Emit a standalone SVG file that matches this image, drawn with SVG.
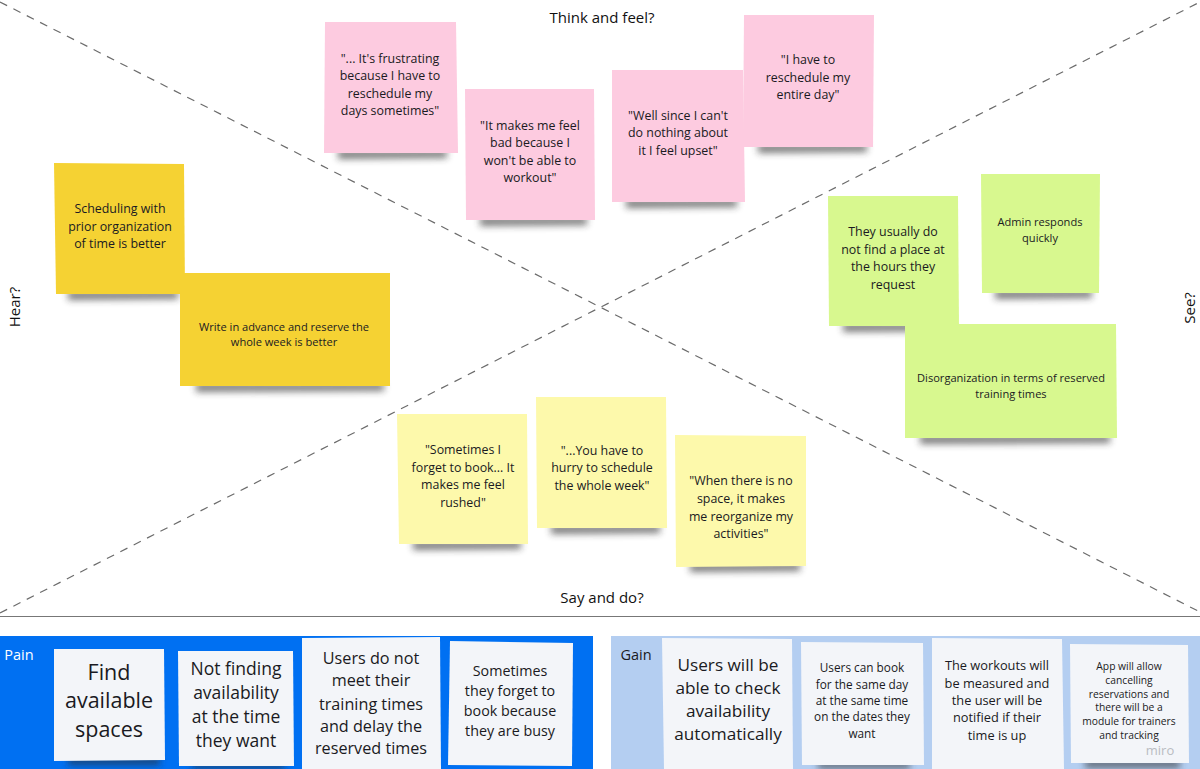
<svg xmlns="http://www.w3.org/2000/svg" width="1200" height="769" viewBox="0 0 1200 769">
<style>
text{font-family:"Open Sans","Noto Sans","Liberation Sans",sans-serif;fill:#1a1a22;text-anchor:middle}
.s{font-size:12.4px}
.w{font-size:11.1px}
.axis{font-size:15px;fill:#111}
.dash{stroke:#6b6b6b;stroke-width:1.2;stroke-dasharray:8 7;fill:none}
.shadow{fill:#2a2a2a;opacity:.62;filter:url(#blur)}
.pink{fill:#fdcbe0}.gold{fill:#f5d233}.green{fill:#d8f88f}.lem{fill:#fdf9ab}.card{fill:#f3f5f9}
</style>
<defs><filter id="blur" x="-20%" y="-150%" width="140%" height="400%"><feGaussianBlur stdDeviation="3.6"/></filter></defs>
<rect width="1200" height="769" fill="#fff"/>
<g id="connectors">
<path class="dash" d="M0 2L1200 612"/>
<path class="dash" d="M0 613L1200 2"/>
<path d="M0 616.500H1200" stroke="#777" stroke-width="1.200"/>
</g>
<g id="axis-labels">
<text class="axis" x="602" y="23">Think and feel?</text>
<text class="axis" x="602" y="603">Say and do?</text>
<text class="axis" transform="translate(20 307) rotate(-90)">Hear?</text>
<text class="axis" transform="translate(1195 308) rotate(-90)">See?</text>
</g>
<g id="pain-panel"><rect y="636" width="593" height="133" fill="#0070f2"/><text x="19" y="660" style="font-size:14.500px;fill:#fff">Pain</text></g>
<g id="gain-panel"><rect x="611" y="636" width="589" height="133" fill="#b4cef1"/><text x="636" y="660" style="font-size:14.500px">Gain</text></g>
<g id="note-frustrating"><path class="shadow" d="M338 150H447V158L338 159Z"/><polygon class="pink" points="325,22 456,22 458,153 324,153"/><text class="s"><tspan x="390" y="63">"... It's frustrating</tspan><tspan x="390" y="80">because I have to</tspan><tspan x="390" y="98">reschedule my</tspan><tspan x="390" y="115">days sometimes"</tspan></text></g>
<g id="note-feel-bad"><path class="shadow" d="M480 217H587V225L480 226Z"/><polygon class="pink" points="465,89 594,89 595,220 466,220"/><text class="s"><tspan x="530" y="130">"It makes me feel</tspan><tspan x="530" y="147">bad because I</tspan><tspan x="530" y="165">won't be able to</tspan><tspan x="530" y="182">workout"</tspan></text></g>
<g id="note-upset"><path class="shadow" d="M626 199H737V207L626 208Z"/><polygon class="pink" points="612,70 743,70 745,202 612,202"/><text class="s"><tspan x="678" y="120">"Well since I can't</tspan><tspan x="678" y="137">do nothing about</tspan><tspan x="678" y="155">it I feel upset"</tspan></text></g>
<g id="note-entire-day"><path class="shadow" d="M758 144H867V152L758 153Z"/><polygon class="pink" points="744,15 874,15 873,147 743,147"/><text class="s"><tspan x="808" y="64">"I have to</tspan><tspan x="808" y="82">reschedule my</tspan><tspan x="808" y="99">entire day"</tspan></text></g>
<g id="note-prior"><path class="shadow" d="M68 291H178V299L68 300Z"/><polygon class="gold" points="54,163 184,164 185,294 56,294"/><text class="s"><tspan x="120" y="213">Scheduling with</tspan><tspan x="120" y="231">prior organization</tspan><tspan x="120" y="248">of time is better</tspan></text></g>
<g id="note-advance"><path class="shadow" d="M196 383H384V391L196 392Z"/><polygon class="gold" points="180,273 390,273 390,386 180,386"/><text class="w"><tspan x="284" y="331">Write in advance and reserve the</tspan><tspan x="284" y="346">whole week is better</tspan></text></g>
<g id="note-no-place"><path class="shadow" d="M843 323H952V331L843 332Z"/><polygon class="green" points="828,196 958,196 959,326 829,326"/><text class="s"><tspan x="893" y="236">They usually do</tspan><tspan x="893" y="254">not find a place at</tspan><tspan x="893" y="271">the hours they</tspan><tspan x="893" y="289">request</tspan></text></g>
<g id="note-admin"><path class="shadow" d="M995 290H1092V298L995 299Z"/><polygon class="green" points="981,174 1100,174 1099,293 982,293"/><text class="w"><tspan x="1040" y="226">Admin responds</tspan><tspan x="1040" y="242">quickly</tspan></text></g>
<g id="note-disorganization"><path class="shadow" d="M920 435H1110V443L920 444Z"/><polygon class="green" points="905,324 1116,324 1117,438 905,438"/><text class="w"><tspan x="1011" y="382">Disorganization in terms of reserved</tspan><tspan x="1011" y="398">training times</tspan></text></g>
<g id="note-forget"><path class="shadow" d="M413 541H521V549L413 550Z"/><polygon class="lem" points="397,414 527,414 528,544 399,544"/><text class="s"><tspan x="463" y="454">"Sometimes I</tspan><tspan x="463" y="472">forget to book... It</tspan><tspan x="463" y="489">makes me feel</tspan><tspan x="463" y="507">rushed"</tspan></text></g>
<g id="note-hurry"><path class="shadow" d="M551 525H660V533L551 534Z"/><polygon class="lem" points="536,397 666,397 667,528 537,528"/><text class="s"><tspan x="602" y="455">"...You have to</tspan><tspan x="602" y="472">hurry to schedule</tspan><tspan x="602" y="490">the whole week"</tspan></text></g>
<g id="note-no-space"><path class="shadow" d="M690 563H800V571L690 572Z"/><polygon class="lem" points="675,435 806,436 806,566 676,567"/><text class="s"><tspan x="741" y="485">"When there is no</tspan><tspan x="741" y="503">space, it makes</tspan><tspan x="741" y="521">me reorganize my</tspan><tspan x="741" y="538">activities"</tspan></text></g>
<g id="pain-1"><path class="shadow" d="M68 757H160V765H68Z"/><polygon class="card" points="54,649 164,649 165,760 54,761"/><text style="font-size:21.500px"><tspan x="109" y="680">Find</tspan><tspan x="109" y="708">available</tspan><tspan x="109" y="737">spaces</tspan></text></g>
<g id="pain-2"><path class="shadow" d="M192 763H285V769H192Z"/><polygon class="card" points="178,651 293,651 294,766 179,766"/><text style="font-size:17.500px"><tspan x="236" y="675">Not finding</tspan><tspan x="236" y="699">availability</tspan><tspan x="236" y="723">at the time</tspan><tspan x="236" y="747">they want</tspan></text></g>
<g id="pain-3"><polygon class="card" points="302,638 440,637 441,769 302,769"/><text style="font-size:16.200px"><tspan x="371" y="664">Users do not</tspan><tspan x="371" y="686">meet their</tspan><tspan x="371" y="710">training times</tspan><tspan x="371" y="732">and delay the</tspan><tspan x="371" y="754">reserved times</tspan></text></g>
<g id="pain-4"><polygon class="card" points="450,641 573,643 572,766 448,765"/><text style="font-size:14.300px"><tspan x="510" y="676">Sometimes</tspan><tspan x="510" y="696">they forget to</tspan><tspan x="510" y="716">book because</tspan><tspan x="510" y="736">they are busy</tspan></text></g>
<g id="gain-1"><polygon class="card" points="662,638 792,639 793,769 664,769"/><text style="font-size:17.200px"><tspan x="728" y="671">Users will be</tspan><tspan x="728" y="694">able to check</tspan><tspan x="728" y="717">availability</tspan><tspan x="728" y="740">automatically</tspan></text></g>
<g id="gain-2"><path class="shadow" d="M818 762H910V769H818Z"/><polygon class="card" points="801,642 923,643 924,765 802,765"/><text style="font-size:11.800px"><tspan x="862" y="672">Users can book</tspan><tspan x="862" y="689">for the same day</tspan><tspan x="862" y="705">at the same time</tspan><tspan x="862" y="721">on the dates they</tspan><tspan x="862" y="738">want</tspan></text></g>
<g id="gain-3"><polygon class="card" points="932,638 1062,639 1064,769 932,769"/><text style="font-size:12.800px"><tspan x="997" y="670">The workouts will</tspan><tspan x="997" y="688">be measured and</tspan><tspan x="997" y="705">the user will be</tspan><tspan x="997" y="722">notified if their</tspan><tspan x="997" y="740">time is up</tspan></text></g>
<g id="gain-4"><path class="shadow" d="M1085 760H1180V768H1085Z"/><polygon class="card" points="1070,644 1188,645 1189,763 1071,763"/><text style="font-size:10.300px"><tspan x="1129" y="670">App will allow</tspan><tspan x="1129" y="684">cancelling</tspan><tspan x="1129" y="698">reservations and</tspan><tspan x="1129" y="711">there will be a</tspan><tspan x="1129" y="725">module for trainers</tspan><tspan x="1129" y="739">and tracking</tspan></text><text x="1160" y="755" style="font-size:13px;fill:#b9bcc2">miro</text></g>
</svg>
